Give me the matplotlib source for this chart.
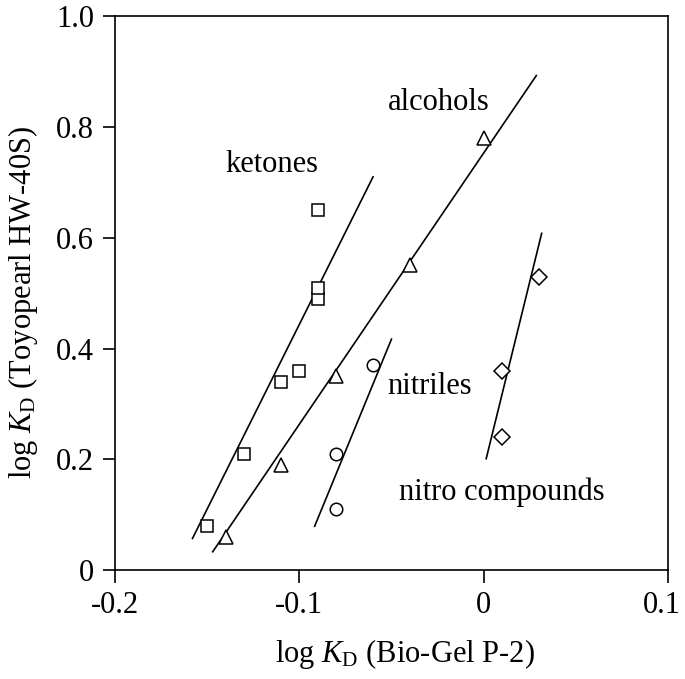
import matplotlib
matplotlib.use('Agg')
import matplotlib.pyplot as plt
from matplotlib.transforms import ScaledTranslation

plt.rcParams['font.family'] = ['Liberation Serif', 'DejaVu Serif']
plt.rcParams['mathtext.fontset'] = 'custom'
plt.rcParams['mathtext.rm'] = 'Liberation Serif'
plt.rcParams['mathtext.it'] = 'Liberation Serif:italic'

# data
ketones_x = [-0.150, -0.130, -0.110, -0.100, -0.090, -0.090, -0.090]
ketones_y = [0.08, 0.21, 0.34, 0.36, 0.49, 0.51, 0.65]
alcohols_x = [-0.140, -0.110, -0.080, -0.040, 0.000]
alcohols_y = [0.06, 0.19, 0.35, 0.55, 0.78]
nitriles_x = [-0.080, -0.080, -0.060]
nitriles_y = [0.11, 0.21, 0.37]
nitro_x = [0.010, 0.010, 0.030]
nitro_y = [0.24, 0.36, 0.53]

# fitted lines (end points)
ketones_fit_x = [-0.158, -0.060]
ketones_fit_y = [0.057, 0.71]
alcohols_fit_x = [-0.147, 0.0286]
alcohols_fit_y = [0.033, 0.893]
nitriles_fit_x = [-0.0917, -0.050]
nitriles_fit_y = [0.079, 0.417]
nitro_fit_x = [0.0014, 0.0315]
nitro_fit_y = [0.201, 0.608]

fig = plt.figure(figsize=(6.85, 6.79), dpi=100)
ax = fig.add_axes([0.168, 0.1605, 0.807, 0.8155])

mk = dict(linestyle='none', markerfacecolor='white', markeredgecolor='black',
          markeredgewidth=1.1, zorder=3)
ax.plot(ketones_x, ketones_y, marker='s', markersize=9, **mk)
ax.plot(alcohols_x, alcohols_y, marker='^', markersize=9.5, **mk)
ax.plot(nitriles_x, nitriles_y, marker='o', markersize=9, **mk)
ax.plot(nitro_x, nitro_y, marker='D', markersize=8.5, **mk)

for fx, fy in [(ketones_fit_x, ketones_fit_y), (alcohols_fit_x, alcohols_fit_y),
               (nitriles_fit_x, nitriles_fit_y), (nitro_fit_x, nitro_fit_y)]:
    ax.plot(fx, fy, color='black', linewidth=1.2, zorder=2)

ax.text(-0.115, 0.733, 'ketones', fontsize=22, ha='center', va='center')
ax.text(-0.0242, 0.844, 'alcohols', fontsize=22, ha='center', va='center')
ax.text(-0.0292, 0.332, 'nitriles', fontsize=22, ha='center', va='center')
ax.text(0.010, 0.140, 'nitro compounds', fontsize=22, ha='center', va='center')

ax.set_xlim(-0.2, 0.1)
ax.set_ylim(0, 1.0)
ax.set_xticks([-0.2, -0.1, 0, 0.1])
ax.set_xticklabels(['-0.2', '-0.1', '0', '0.1'])
ax.set_yticks([0, 0.2, 0.4, 0.6, 0.8, 1.0])
ax.set_yticklabels(['0', '0.2', '0.4', '0.6', '0.8', '1.0'])
ax.tick_params(direction='out', length=9, width=1.2, labelsize=22, pad=6)
for s in ax.spines.values():
    s.set_linewidth(1.2)

# last x tick label sits a little left of its tick, as in the original
last = ax.get_xticklabels()[-1]
last.set_transform(last.get_transform() + ScaledTranslation(-0.065, 0, fig.dpi_scale_trans))

ax.set_xlabel(r'log $K_\mathrm{D}$ (Bio-Gel P-2)', fontsize=22, labelpad=12, x=0.524)
ax.set_ylabel(r'log $K_\mathrm{D}$ (Toyopearl HW-40S)', fontsize=22, labelpad=12, y=0.484)

fig.savefig('out.png', dpi=100)
plt.close('all')
